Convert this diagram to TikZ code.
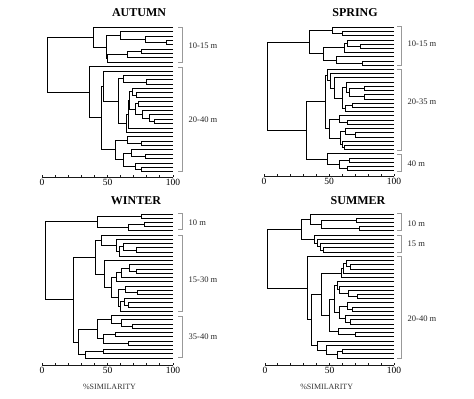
\documentclass[tikz,border=0pt]{standalone}
\usepackage{fontspec}
\setmainfont{Liberation Serif}

\tikzset{every picture/.style={line width=0.75pt}}
\tikzset{
  dendro/.style={line width=0.9pt, black},
  brkt/.style={line width=0.6pt, black!40},
  axisline/.style={line width=0.9pt, black!90},
  ttl/.style={font=\fontsize{12}{14}\selectfont\bfseries},
  grp/.style={anchor=west, font=\fontsize{8.5}{10}\selectfont, black!85},
  tck/.style={anchor=north, inner sep=1pt, font=\fontsize{9.5}{10}\selectfont},
  simlbl/.style={font=\fontsize{8}{10}\selectfont, black!80}
}
% one join: parent similarity, child 1 (sim, row), child 2 (sim, row)
\newcommand{\mrg}[5]{\draw[dendro] (#2,#3) -| (#1,#5) -- (#4,#5);}

\begin{document}
\begin{tikzpicture}[x=1pt,y=1pt,yscale=-1,xscale=1]
\fill[white, use as bounding box] (0,0) rectangle (474,399);

%Dendrogram: AUTUMN
\begin{scope}[shift={(42,27.3)}, xscale=1.31, yscale=4.376]
\mrg{95}{100}{3}{100}{4}
\mrg{79}{100}{2}{95}{3.5}
\mrg{60}{100}{1}{79}{2.75}
\mrg{76}{100}{5}{100}{6}
\mrg{65}{76}{5.5}{100}{7}
\mrg{50}{65}{6.25}{100}{8}
\mrg{49}{60}{1.875}{50}{7.125}
\mrg{39}{100}{0}{49}{4.5}
\mrg{76}{100}{26}{100}{27}
\mrg{65}{100}{25}{76}{26.5}
\mrg{79}{100}{29}{100}{30}
\mrg{68}{100}{28}{79}{29.5}
\mrg{76}{100}{32}{100}{33}
\mrg{71}{100}{31}{76}{32.5}
\mrg{62}{68}{28.75}{71}{31.75}
\mrg{56}{65}{25.75}{62}{30.25}
\mrg{80}{100}{12}{100}{13}
\mrg{62}{100}{11}{80}{12.5}
\mrg{72}{100}{15}{100}{16}
\mrg{69}{100}{14}{72}{15.5}
\mrg{86}{100}{21}{100}{22}
\mrg{82}{100}{20}{86}{21.5}
\mrg{77}{100}{19}{82}{20.75}
\mrg{74}{100}{17}{100}{18}
\mrg{71}{74}{17.5}{77}{19.875}
\mrg{67}{69}{14.75}{71}{18.6875}
\mrg{66}{67}{16.71875}{100}{23}
\mrg{64.5}{66}{19.86}{100}{24}
\mrg{58}{62}{11.75}{64.5}{21.93}
\mrg{47}{100}{10}{58}{16.84}
\mrg{45}{47}{13.42}{56}{28}
\mrg{36}{100}{9}{45}{20.71}
\mrg{4}{39}{2.25}{36}{14.855}
\end{scope}

%Dendrogram: SPRING
\begin{scope}[shift={(264,27.3)}, xscale=1.3, yscale=4.22]
\mrg{60}{100}{1}{100}{2}
\mrg{53}{100}{0}{60}{1.5}
\mrg{74}{100}{4}{100}{5}
\mrg{64}{100}{3}{74}{4.5}
\mrg{62}{64}{3.75}{100}{6}
\mrg{76}{100}{8}{100}{9}
\mrg{56}{100}{7}{76}{8.5}
\mrg{46}{62}{4.875}{56}{7.75}
\mrg{35}{53}{0.75}{46}{6.3125}
\mrg{66}{100}{31}{100}{32}
\mrg{64}{100}{33}{100}{34}
\mrg{58}{66}{31.5}{64}{33.5}
\mrg{49}{100}{30}{58}{32.5}
\mrg{77}{100}{14}{100}{15}
\mrg{77}{100}{16}{100}{17}
\mrg{66}{77}{14.5}{77}{16.5}
\mrg{63.5}{100}{13}{66}{15.5}
\mrg{68}{100}{18}{100}{19}
\mrg{63}{68}{18.5}{100}{20}
\mrg{60}{63.5}{14.25}{63}{19.25}
\mrg{54}{100}{12}{60}{16.75}
\mrg{51}{100}{11}{54}{14.375}
\mrg{49}{100}{10}{51}{12.6875}
\mrg{64}{100}{22}{100}{23}
\mrg{58}{100}{21}{64}{22.5}
\mrg{70}{100}{25}{100}{26}
\mrg{63}{100}{24}{70}{25.5}
\mrg{62}{100}{28}{100}{29}
\mrg{60}{100}{27}{62}{28.5}
\mrg{58.5}{63}{24.75}{60}{27.75}
\mrg{50}{58}{21.75}{58.5}{26.25}
\mrg{47}{49}{11.34}{50}{24}
\mrg{33}{47}{17.67}{49}{31.25}
\mrg{2.5}{35}{3.53}{33}{24.46}
\end{scope}

%Dendrogram: WINTER
\begin{scope}[shift={(42,214)}, xscale=1.31, yscale=4.235]
\mrg{76}{100}{0}{100}{1}
\mrg{78}{100}{2}{100}{3}
\mrg{66}{78}{2.5}{100}{4}
\mrg{42}{76}{0.5}{66}{3.25}
\mrg{72}{100}{8}{100}{9}
\mrg{62}{100}{7}{72}{8.5}
\mrg{59}{62}{7.75}{100}{10}
\mrg{57}{100}{6}{59}{8.875}
\mrg{45}{100}{5}{57}{7.4375}
\mrg{72}{100}{13}{100}{14}
\mrg{67}{100}{12}{72}{13.5}
\mrg{61}{67}{12.75}{100}{15}
\mrg{57}{61}{13.875}{100}{16}
\mrg{73}{100}{18}{100}{19}
\mrg{64}{100}{17}{73}{18.5}
\mrg{66}{100}{21}{100}{22}
\mrg{63}{100}{20}{66}{21.5}
\mrg{60}{63}{20.75}{100}{23}
\mrg{58}{64}{17.75}{60}{21.875}
\mrg{53}{57}{14.94}{58}{19.81}
\mrg{48}{100}{11}{53}{17.375}
\mrg{41}{45}{6.22}{48}{14.19}
\mrg{69}{100}{26}{100}{27}
\mrg{61}{100}{25}{69}{26.5}
\mrg{53}{100}{24}{61}{25.75}
\mrg{56}{100}{28}{100}{29}
\mrg{66}{100}{30}{100}{31}
\mrg{47}{56}{28.5}{66}{30.5}
\mrg{42}{53}{24.875}{47}{29.5}
\mrg{47}{100}{32}{100}{33}
\mrg{33}{47}{32.5}{100}{34}
\mrg{28}{42}{27.19}{33}{33.25}
\mrg{24}{41}{10.2}{28}{30.22}
\mrg{3}{42}{1.875}{24}{20.21}
\end{scope}

%Dendrogram: SUMMER
\begin{scope}[shift={(265,214)}, xscale=1.29, yscale=4.235]
\mrg{71}{100}{1}{100}{2}
\mrg{73}{100}{3}{100}{4}
\mrg{44}{71}{1.5}{73}{3.5}
\mrg{35}{100}{0}{44}{2.5}
\mrg{45}{100}{8}{100}{9}
\mrg{43}{100}{7}{45}{8.5}
\mrg{41}{100}{6}{43}{7.75}
\mrg{38}{100}{5}{41}{6.875}
\mrg{28}{35}{1.25}{38}{5.94}
\mrg{60}{100}{32}{100}{33}
\mrg{56}{60}{32.5}{100}{34}
\mrg{48}{100}{31}{56}{33.25}
\mrg{41}{100}{30}{48}{32.125}
\mrg{66}{100}{12}{100}{13}
\mrg{63}{100}{11}{66}{12.5}
\mrg{61}{63}{11.75}{100}{14}
\mrg{59}{61}{12.875}{100}{15}
\mrg{72}{100}{19}{100}{20}
\mrg{65}{100}{18}{72}{19.5}
\mrg{58}{100}{17}{65}{18.75}
\mrg{56.5}{100}{16}{58}{17.875}
\mrg{68}{100}{22}{100}{23}
\mrg{64}{100}{21}{68}{22.5}
\mrg{66}{100}{25}{100}{26}
\mrg{62}{100}{24}{66}{25.5}
\mrg{58}{64}{21.75}{62}{24.75}
\mrg{54}{56.5}{16.94}{58}{23.25}
\mrg{70}{100}{28}{100}{29}
\mrg{57}{100}{27}{70}{28.5}
\mrg{50}{54}{20.09}{57}{27.75}
\mrg{44}{59}{13.94}{50}{23.92}
\mrg{36}{44}{18.93}{41}{31.06}
\mrg{33}{100}{10}{36}{25}
\mrg{2}{28}{3.59}{33}{17.5}
\end{scope}

%Axes
\draw[axisline] (42,177) -- (173,177);
\foreach \t in {0,...,10} \draw[axisline] (42+13.1*\t,177) -- ++(0,-2);
\draw[axisline] (264,176) -- (394,176);
\foreach \t in {0,...,10} \draw[axisline] (264+13*\t,176) -- ++(0,-2);
\draw[axisline] (42,365) -- (173,365);
\foreach \t in {0,...,10} \draw[axisline] (42+13.1*\t,365) -- ++(0,-2);
\draw[axisline] (265,365) -- (394,365);
\foreach \t in {0,...,10} \draw[axisline] (265+12.9*\t,365) -- ++(0,-2);

%Brackets
\draw[brkt] (178.3,27.3) -| (182.7,62.3) -- (178.3,62.3);
\draw[brkt] (178.3,67) -| (182.7,171.7) -- (178.3,171.7);
\draw[brkt] (397.3,26) -| (401.7,65) -- (397.3,65);
\draw[brkt] (397.3,69.3) -| (401.7,150.7) -- (397.3,150.7);
\draw[brkt] (397.3,154) -| (401.7,171.7) -- (397.3,171.7);
\draw[brkt] (178.3,213.3) -| (182.7,229.3) -- (178.3,229.3);
\draw[brkt] (178.3,235) -| (182.7,311.7) -- (178.3,311.7);
\draw[brkt] (178.3,316) -| (182.7,357.3) -- (178.3,357.3);
\draw[brkt] (397.3,213.3) -| (401.7,230) -- (397.3,230);
\draw[brkt] (397.3,235) -| (401.7,252.3) -- (397.3,252.3);
\draw[brkt] (397.3,256.7) -| (401.7,358.3) -- (397.3,358.3);

% Text Node
\node[ttl] (tAut) at (139,13) {AUTUMN};
\node[ttl] (tSpr) at (355,13) {SPRING};
\node[ttl] (tWin) at (136,201) {WINTER};
\node[ttl] (tSum) at (358,201) {SUMMER};
% Text Node
\node[grp] (gA1) at (185,45.7) {10-15 m};
\node[grp] (gA2) at (185,120) {20-40 m};
\node[grp] (gS1) at (404,44) {10-15 m};
\node[grp] (gS2) at (404,101.7) {20-35 m};
\node[grp] (gS3) at (404,163.3) {40 m};
\node[grp] (gW1) at (185,222.3) {10 m};
\node[grp] (gW2) at (185,279.3) {15-30 m};
\node[grp] (gW3) at (185,336.7) {35-40 m};
\node[grp] (gU1) at (404,223.3) {10 m};
\node[grp] (gU2) at (404,243.3) {15 m};
\node[grp] (gU3) at (404,318.3) {20-40 m};
% Text Node
\node[tck] (a0) at (42,178) {0};
\node[tck] (a50) at (107.5,178) {50};
\node[tck] (a100) at (173,178) {100};
\node[tck] (s0) at (264,177) {0};
\node[tck] (s50) at (329,177) {50};
\node[tck] (s100) at (394,177) {100};
\node[tck] (w0) at (42,366) {0};
\node[tck] (w50) at (107.5,366) {50};
\node[tck] (w100) at (173,366) {100};
\node[tck] (u0) at (265,366) {0};
\node[tck] (u50) at (329.5,366) {50};
\node[tck] (u100) at (394,366) {100};
% Text Node
\node[simlbl] (simW) at (109.5,387) {\%SIMILARITY};
\node[simlbl] (simU) at (326.7,387) {\%SIMILARITY};

\end{tikzpicture}
\end{document}
